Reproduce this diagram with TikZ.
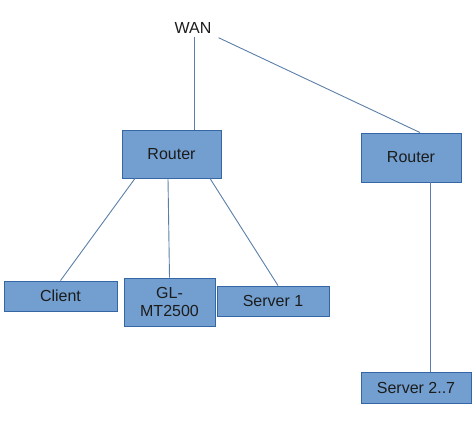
\documentclass[tikz,border=0pt]{standalone}
\usepackage{fontspec}
\setmainfont{Liberation Sans}
\usepackage{tikz}
\usetikzlibrary{positioning}
\usetikzlibrary{shapes.geometric, arrows}
\definecolor{boxfill}{HTML}{729FCF}
\definecolor{boxline}{HTML}{3465A4}
\definecolor{wire}{HTML}{5B7FA8}
\definecolor{label}{HTML}{1C1C1C}
\tikzstyle{device} = [draw=boxline,line width=0.9pt,fill=boxfill,text=label,font=\fontsize{16}{18}\selectfont,inner sep=0pt,align=center]
\tikzstyle{wireline} = [draw=wire,line width=0.9pt]

\begin{document}
\begin{tikzpicture}[x=1pt,y=-1pt]
	\useasboundingbox (0,0) rectangle (474,426);
	%Nodes
	\node (wan) at (193,28) [text=label,font=\fontsize{16}{18}\selectfont,inner sep=2pt] {WAN};
	
	\node (r1) [device,minimum width=99pt,minimum height=48pt] at (171.5,154) {Router};
	\node (r2) [device,minimum width=100pt,minimum height=49pt] at (411,157.5) {Router};
	
	\node (client) [device,minimum width=113pt,minimum height=30pt] at (60.5,296) {Client};
	\node (gl) [device,minimum width=91pt,minimum height=48pt] at (169.5,302) {GL-\\MT2500};
	\node (srv1) [device,minimum width=112pt,minimum height=30pt] at (273,301) {Server 1};
	\node (srv2) [device,minimum width=110pt,minimum height=31pt] at (416,387.5) {Server 2..7};
	
	%Lines
	\draw[wireline] ([xshift=1pt,yshift=-1pt]wan.south) -- ([xshift=22.5pt]r1.north);
	\draw[wireline] ([xshift=5pt,yshift=-2pt]wan.south east) -- ([xshift=9pt]r2.north);
	
	\draw[wireline] ([xshift=-36.5pt]r1.south) -- (client.north);
	\draw[wireline] ([xshift=-3.5pt]r1.south) -- (gl.north);
	\draw[wireline] ([xshift=38.5pt]r1.south) -- ([xshift=5pt]srv1.north);
	
	\draw[wireline] ([xshift=19pt]r2.south) -- ([xshift=14pt]srv2.north);
\end{tikzpicture}
\end{document}
